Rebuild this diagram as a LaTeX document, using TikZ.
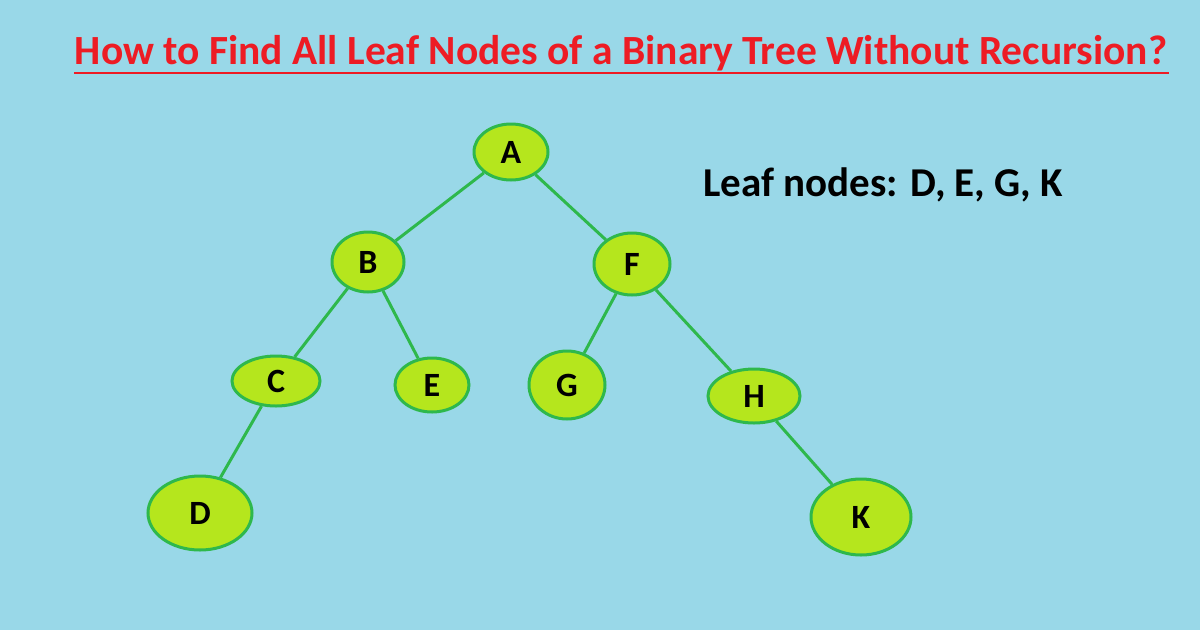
\documentclass[tikz,border=0pt]{standalone}
\usepackage{fontspec}
\setmainfont{Carlito}
\usetikzlibrary{shapes.geometric}
\definecolor{bg}{HTML}{99D8E8}
\definecolor{nfill}{HTML}{B5E61D}
\definecolor{ngreen}{HTML}{2EB84C}
\definecolor{ttl}{HTML}{ED1C24}
\tikzset{tn/.style={ellipse,draw=ngreen,line width=3pt,fill=nfill,inner sep=0pt,font=\fontsize{34}{36}\selectfont\bfseries},
 ed/.style={draw=ngreen,line width=3pt}}
\begin{document}
\begin{tikzpicture}[x=1pt,y=-1pt]
\fill[bg] (0,0) rectangle (1200,630);
\useasboundingbox (0,0) rectangle (1200,630);
\node[text=ttl,font=\fontsize{41.5}{44}\selectfont\bfseries,inner sep=0pt,anchor=base] (title) at (621,64) {How to Find All Leaf Nodes of a Binary Tree Without Recursion?};
\coordinate (ul) at (74,73); \coordinate (ur) at (1169,73);
\draw[ttl,line width=2.5pt] (ul) -- (ur);
\node[font=\fontsize{41}{44}\selectfont\bfseries,anchor=base west,inner sep=0pt] (leaf) at (703,196) {Leaf nodes: D, E, G, K};
\node[tn,minimum width=74pt,minimum height=56pt] (A) at (511,152) {A};
\node[tn,minimum width=72pt,minimum height=60pt] (B) at (368,262) {B};
\node[tn,minimum width=76pt,minimum height=62pt] (F) at (632,264) {F};
\node[tn,minimum width=88pt,minimum height=50pt] (C) at (276,381) {C};
\node[tn,minimum width=74pt,minimum height=54pt] (E) at (432,385) {E};
\node[tn,minimum width=76pt,minimum height=68pt] (G) at (567,385) {G};
\node[tn,minimum width=92pt,minimum height=54pt] (H) at (754,396) {H};
\node[tn,minimum width=104pt,minimum height=74pt] (D) at (200,513) {D};
\node[tn,minimum width=100pt,minimum height=76pt] (K) at (861,517) {K};
\draw[ed] (A) -- (B); \draw[ed] (A) -- (F);
\draw[ed] (B) -- (C); \draw[ed] (B) -- (E);
\draw[ed] (F) -- (G); \draw[ed] (F) -- (H);
\draw[ed] (C) -- (D); \draw[ed] (H) -- (K);
\end{tikzpicture}
\end{document}
